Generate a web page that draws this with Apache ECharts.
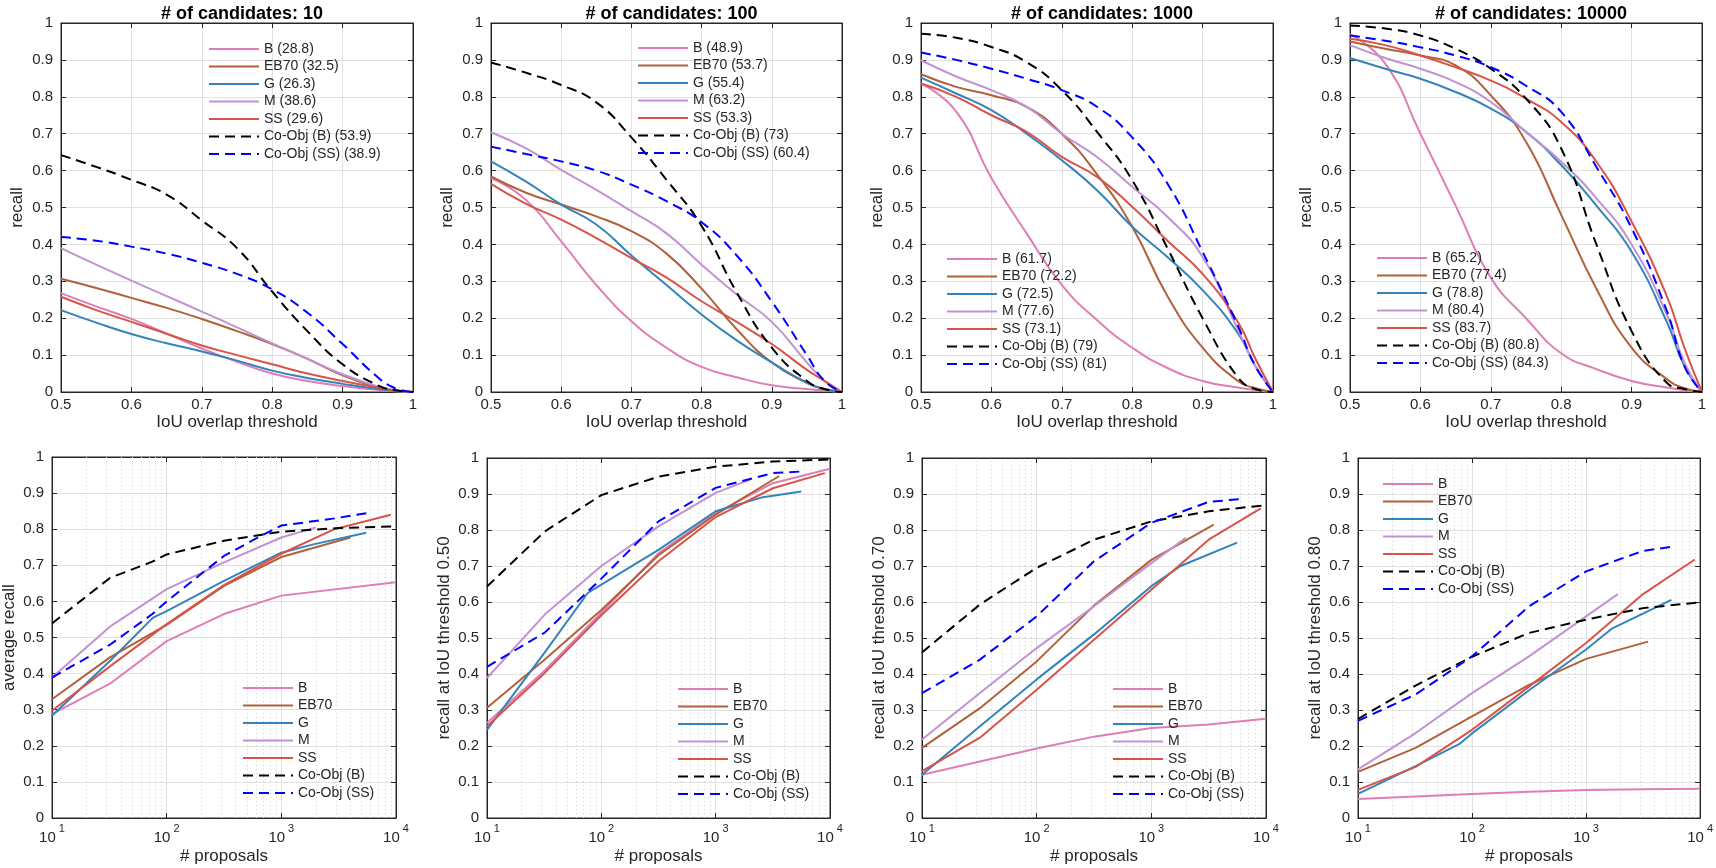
<!DOCTYPE html>
<html><head><meta charset="utf-8">
<script src="https://cdn.jsdelivr.net/npm/echarts@6/dist/echarts.min.js"></script>
<style>html,body{margin:0;padding:0;background:#fff}#c{width:1716px;height:868px}</style>
</head><body><div id="c"></div>
<script>
// ---------- data ----------
const thresholds = [0.5,0.55,0.6,0.65,0.7,0.75,0.8,0.85,0.9,0.95,0.975,1.0];
const methods = ['B','EB70','G','M','SS','Co-Obj (B)','Co-Obj (SS)'];
const candidateTitles = ['# of candidates: 10','# of candidates: 100','# of candidates: 1000','# of candidates: 10000'];

// recall vs IoU threshold, 10 candidates
const c10_B   = [0.268,0.232,0.198,0.158,0.118,0.082,0.050,0.030,0.016,0.006,0.002,0];
const c10_EB  = [0.307,0.282,0.255,0.228,0.198,0.165,0.130,0.090,0.045,0.012,0.004,0];
const c10_G   = [0.222,0.188,0.157,0.132,0.110,0.085,0.058,0.038,0.022,0.008,0.003,0];
const c10_M   = [0.390,0.345,0.302,0.260,0.218,0.175,0.132,0.090,0.048,0.015,0.005,0];
const c10_SS  = [0.258,0.222,0.190,0.158,0.126,0.100,0.075,0.050,0.030,0.012,0.004,0];
const c10_CB  = [0.642,0.610,0.575,0.535,0.465,0.390,0.272,0.165,0.075,0.018,0.005,0];
const c10_CS  = [0.420,0.410,0.394,0.375,0.350,0.320,0.278,0.215,0.130,0.040,0.010,0];
const c10_scores = ['28.8','32.5','26.3','38.6','29.6','53.9','38.9'];

// 100 candidates
const c100_B  = [0.580,0.520,0.408,0.290,0.192,0.120,0.068,0.040,0.018,0.008,0.004,0];
const c100_EB = [0.584,0.540,0.508,0.476,0.436,0.375,0.280,0.170,0.080,0.025,0.008,0];
const c100_G  = [0.625,0.570,0.508,0.454,0.370,0.290,0.210,0.140,0.080,0.025,0.008,0];
const c100_M  = [0.704,0.660,0.602,0.548,0.490,0.430,0.345,0.264,0.190,0.080,0.030,0];
const c100_SS = [0.564,0.510,0.467,0.417,0.363,0.310,0.246,0.190,0.130,0.060,0.030,0];
const c100_CB = [0.893,0.865,0.832,0.785,0.690,0.575,0.450,0.270,0.120,0.030,0.008,0];
const c100_CS = [0.665,0.645,0.625,0.600,0.562,0.517,0.460,0.370,0.245,0.100,0.030,0];
const c100_scores = ['48.9','53.7','55.4','63.2','53.3','73','60.4'];

// 1000 candidates
const c1k_B   = [0.836,0.760,0.580,0.430,0.290,0.195,0.120,0.065,0.030,0.012,0.005,0];
const c1k_EB  = [0.861,0.827,0.804,0.773,0.700,0.590,0.448,0.260,0.120,0.030,0.010,0];
const c1k_G   = [0.852,0.809,0.764,0.700,0.628,0.547,0.448,0.366,0.276,0.160,0.070,0];
const c1k_M   = [0.899,0.855,0.818,0.773,0.700,0.637,0.556,0.475,0.366,0.170,0.070,0];
const c1k_SS  = [0.836,0.800,0.750,0.705,0.637,0.583,0.502,0.410,0.320,0.190,0.090,0];
const c1k_CB  = [0.971,0.960,0.935,0.894,0.818,0.705,0.574,0.390,0.200,0.040,0.008,0];
const c1k_CS  = [0.920,0.900,0.876,0.849,0.818,0.773,0.690,0.565,0.380,0.180,0.070,0];
const c1k_scores = ['61.7','72.2','72.5','77.6','73.1','79','81'];

// 10000 candidates
const c10k_B  = [0.970,0.890,0.700,0.505,0.310,0.200,0.105,0.062,0.030,0.012,0.005,0];
const c10k_EB = [0.950,0.930,0.912,0.885,0.804,0.678,0.480,0.280,0.120,0.035,0.010,0];
const c10k_G  = [0.905,0.876,0.849,0.813,0.768,0.705,0.615,0.505,0.380,0.190,0.070,0];
const c10k_M  = [0.940,0.905,0.876,0.840,0.786,0.705,0.624,0.525,0.400,0.210,0.080,0];
const c10k_SS = [0.957,0.940,0.912,0.880,0.844,0.795,0.732,0.624,0.462,0.260,0.120,0];
const c10k_CB = [0.993,0.985,0.966,0.930,0.876,0.795,0.660,0.400,0.165,0.025,0.008,0];
const c10k_CS = [0.966,0.952,0.934,0.912,0.880,0.830,0.759,0.610,0.444,0.220,0.070,0];
const c10k_scores = ['65.2','77.4','78.8','80.4','83.7','80.8','84.3'];

// average recall vs # proposals  [proposals, value]
const ar_B  = [[10,0.288],[32,0.372],[100,0.49],[316,0.565],[1000,0.616],[10000,0.653]];
const ar_EB = [[10,0.329],[32,0.445],[100,0.535],[316,0.643],[1000,0.723],[4000,0.777]];
const ar_G  = [[10,0.283],[32,0.435],[76,0.555],[100,0.573],[316,0.657],[1000,0.735],[1900,0.758],[5500,0.79]];
const ar_M  = [[10,0.389],[32,0.53],[100,0.634],[316,0.708],[1000,0.777],[2000,0.805]];
const ar_SS = [[10,0.297],[32,0.42],[100,0.537],[316,0.645],[1000,0.732],[2900,0.8],[9000,0.84]];
const ar_CB = [[10,0.539],[32,0.665],[75,0.71],[100,0.73],[316,0.768],[1000,0.793],[3162,0.803],[10000,0.808]];
const ar_CS = [[10,0.389],[32,0.48],[75,0.565],[100,0.6],[316,0.726],[650,0.78],[1000,0.81],[2900,0.83],[6000,0.846]];

// recall at IoU 0.50
const r50_B  = [[10,0.264],[32,0.41],[100,0.57],[316,0.735],[1000,0.847],[3162,0.93],[10000,0.97]];
const r50_EB = [[10,0.306],[32,0.44],[100,0.578],[316,0.73],[1000,0.843],[3600,0.95]];
const r50_G  = [[10,0.245],[32,0.46],[76,0.625],[100,0.648],[316,0.745],[1000,0.852],[2500,0.89],[5600,0.907]];
const r50_M  = [[10,0.389],[32,0.565],[100,0.7],[316,0.81],[1000,0.903],[2000,0.94]];
const r50_SS = [[10,0.255],[32,0.403],[100,0.563],[316,0.713],[1000,0.836],[3162,0.916],[9000,0.958]];
const r50_CB = [[10,0.643],[32,0.796],[100,0.897],[316,0.948],[1000,0.976],[3162,0.99],[10000,0.996]];
const r50_CS = [[10,0.42],[32,0.515],[100,0.665],[316,0.824],[1000,0.917],[3162,0.958],[6000,0.963]];

// recall at IoU 0.70
const r70_B  = [[10,0.12],[32,0.157],[100,0.193],[316,0.226],[1000,0.25],[3162,0.26],[10000,0.276]];
const r70_EB = [[10,0.195],[32,0.305],[100,0.435],[316,0.59],[1000,0.717],[3500,0.815]];
const r70_G  = [[10,0.12],[32,0.255],[100,0.385],[316,0.51],[1000,0.644],[1800,0.7],[5600,0.765]];
const r70_M  = [[10,0.218],[32,0.347],[100,0.472],[316,0.588],[1000,0.708],[2000,0.778]];
const r70_SS = [[10,0.13],[32,0.223],[100,0.356],[316,0.495],[1000,0.634],[3162,0.773],[9000,0.86]];
const r70_CB = [[10,0.46],[32,0.593],[100,0.695],[316,0.773],[1000,0.824],[3162,0.852],[10000,0.869]];
const r70_CS = [[10,0.347],[32,0.44],[100,0.56],[316,0.713],[1000,0.82],[3162,0.878],[6000,0.886]];

// recall at IoU 0.80
const r80_B  = [[10,0.053],[32,0.06],[100,0.067],[316,0.073],[1000,0.078],[3162,0.08],[10000,0.081]];
const r80_EB = [[10,0.128],[32,0.195],[100,0.282],[316,0.37],[1000,0.442],[3500,0.49]];
const r80_G  = [[10,0.067],[32,0.144],[77,0.205],[100,0.235],[316,0.355],[1000,0.468],[1700,0.527],[5600,0.606]];
const r80_M  = [[10,0.135],[32,0.236],[100,0.347],[316,0.449],[1000,0.56],[1900,0.622]];
const r80_SS = [[10,0.078],[32,0.142],[100,0.245],[316,0.365],[1000,0.486],[3162,0.622],[9000,0.718]];
const r80_CB = [[10,0.275],[32,0.368],[100,0.448],[316,0.514],[1000,0.551],[3162,0.583],[10000,0.599]];
const r80_CS = [[10,0.27],[32,0.343],[100,0.449],[316,0.588],[1000,0.685],[3162,0.742],[5500,0.753]];

const bottomYNames = ['average recall','recall at IoU threshold 0.50','recall at IoU threshold 0.70','recall at IoU threshold 0.80'];
const minorTicks = [20,30,40,50,60,70,80,90,200,300,400,500,600,700,800,900,2000,3000,4000,5000,6000,7000,8000,9000];

// ---------- styling / layout ----------
const colors = ['#E17DB5','#B1613A','#3384BA','#C292D3','#D8544A','#000000','#0000FF'];
const dashedFlags = [false,false,false,false,false,true,true];
const FONT = 'Liberation Sans, Arial, Helvetica, sans-serif';
const AX = '#262626';
const GRIDC = '#e1e1e1';

const topGrids = [
  {left:61, top:23, width:352, height:369},
  {left:491, top:23, width:351, height:369},
  {left:921, top:23, width:352, height:369},
  {left:1350, top:23, width:352, height:369}
];
const botGrids = [
  {left:52, top:457, width:344, height:361},
  {left:487, top:458, width:343, height:360},
  {left:922, top:458, width:344, height:360},
  {left:1358, top:458, width:344, height:360}
];
const topLegendPos = [{left:208,top:42},{left:637,top:41},{left:946,top:252},{left:1376,top:251}];
const botLegendPos = [{left:242,top:681},{left:677,top:682},{left:1112,top:682},{left:1382,top:477}];

const topSets = [
  [c10_B,c10_EB,c10_G,c10_M,c10_SS,c10_CB,c10_CS],
  [c100_B,c100_EB,c100_G,c100_M,c100_SS,c100_CB,c100_CS],
  [c1k_B,c1k_EB,c1k_G,c1k_M,c1k_SS,c1k_CB,c1k_CS],
  [c10k_B,c10k_EB,c10k_G,c10k_M,c10k_SS,c10k_CB,c10k_CS]
];
const topScores = [c10_scores,c100_scores,c1k_scores,c10k_scores];
const botSets = [
  [ar_B,ar_EB,ar_G,ar_M,ar_SS,ar_CB,ar_CS],
  [r50_B,r50_EB,r50_G,r50_M,r50_SS,r50_CB,r50_CS],
  [r70_B,r70_EB,r70_G,r70_M,r70_SS,r70_CB,r70_CS],
  [r80_B,r80_EB,r80_G,r80_M,r80_SS,r80_CB,r80_CS]
];

// ---------- build option ----------
const grid = [], xAxis = [], yAxis = [], series = [], legend = [], title = [];
const axLine = {show:true, onZero:false, lineStyle:{color:AX, width:1}};
const axTick = {show:true, inside:true, length:5, lineStyle:{color:AX, width:1}};
const nameStyle = {fontSize:17, color:AX, fontFamily:FONT};
const labelBase = {fontSize:15, color:AX, fontFamily:FONT};

function lineSeries(name, data, k, xi, extra) {
  return Object.assign({
    type:'line', name, data, xAxisIndex:xi, yAxisIndex:xi,
    symbol:'none', showSymbol:false, clip:true,
    lineStyle:{color:colors[k], width:2, type: dashedFlags[k] ? [10,6] : 'solid'},
    itemStyle:{color:colors[k]},
    emphasis:{disabled:true}, z: 2 + k*0.01
  }, extra || {});
}

function legendCfg(pos, names) {
  return {
    left:pos.left, top:pos.top, orient:'vertical', padding:0,
    itemWidth:50, itemHeight:14, itemGap:3.5, selectedMode:false,
    itemStyle:{opacity:0, borderWidth:0},
    textStyle:{fontSize:14, color:AX, fontFamily:FONT, lineHeight:14},
    data:names
  };
}

function boxGrid(g) {
  return {left:g.left, top:g.top, width:g.width, height:g.height, containLabel:false,
    show:true, borderColor:AX, borderWidth:1, backgroundColor:'transparent'};
}

// top row
for (let i = 0; i < 4; i++) {
  const g = topGrids[i];
  grid.push(boxGrid(g));
  const gi = grid.length - 1;
  xAxis.push({gridIndex:gi, type:'value', min:0.5, max:1, interval:0.1, position:'bottom',
    name:'IoU overlap threshold', nameLocation:'middle', nameGap:22, nameTextStyle:nameStyle,
    axisLine:axLine, axisTick:axTick, axisLabel:Object.assign({margin:5}, labelBase),
    splitLine:{show:true, lineStyle:{color:GRIDC, width:1}}});
  xAxis.push({gridIndex:gi, type:'value', min:0.5, max:1, interval:0.1, position:'top',
    axisLine:axLine, axisTick:axTick, axisLabel:{show:false}, splitLine:{show:false}});
  yAxis.push({gridIndex:gi, type:'value', min:0, max:1, interval:0.1, position:'left',
    name:'recall', nameLocation:'middle', nameGap:35, nameTextStyle:nameStyle,
    axisLine:axLine, axisTick:axTick, axisLabel:Object.assign({margin:8}, labelBase),
    splitLine:{show:true, lineStyle:{color:GRIDC, width:1}}});
  yAxis.push({gridIndex:gi, type:'value', min:0, max:1, interval:0.1, position:'right',
    axisLine:axLine, axisTick:axTick, axisLabel:{show:false}, splitLine:{show:false}});
  const xi = xAxis.length - 2;
  const names = [];
  topSets[i].forEach((arr, k) => {
    const nm = methods[k] + ' (' + topScores[i][k] + ')';
    names.push(nm);
    series.push(lineSeries(nm, thresholds.map((t, j) => [t, arr[j]]), k, xi, {smooth:0.5}));
  });
  legend.push(legendCfg(topLegendPos[i], names));
  title.push({text:candidateTitles[i], left:g.left + g.width/2, top:0, textAlign:'center',
    textStyle:{fontSize:18, fontWeight:'bold', color:'#000', fontFamily:FONT}});
}

// bottom row
const logLabel = {
  margin:5,
  formatter: v => '{b|10}{s|' + Math.round(Math.log10(v)) + '}',
  rich:{
    b:{fontSize:15, color:AX, fontFamily:FONT, lineHeight:30},
    s:{fontSize:11, color:AX, fontFamily:FONT, lineHeight:12, verticalAlign:'top', padding:[0,0,0,3]}
  }
};
for (let i = 0; i < 4; i++) {
  const g = botGrids[i];
  grid.push(boxGrid(g));
  const gi = grid.length - 1;
  xAxis.push({gridIndex:gi, type:'log', logBase:10, min:10, max:10000, position:'bottom',
    name:'# proposals', nameLocation:'middle', nameGap:30, nameTextStyle:nameStyle,
    axisLine:axLine, axisTick:axTick, axisLabel:logLabel,
    splitLine:{show:true, lineStyle:{color:GRIDC, width:1}}});
  xAxis.push({gridIndex:gi, type:'log', logBase:10, min:10, max:10000, position:'top',
    axisLine:axLine, axisTick:axTick, axisLabel:{show:false}, splitLine:{show:false}});
  yAxis.push({gridIndex:gi, type:'value', min:0, max:1, interval:0.1, position:'left',
    name:bottomYNames[i], nameLocation:'middle', nameGap:34, nameTextStyle:nameStyle,
    axisLine:axLine, axisTick:axTick, axisLabel:Object.assign({margin:8}, labelBase),
    splitLine:{show:true, lineStyle:{color:GRIDC, width:1}}});
  yAxis.push({gridIndex:gi, type:'value', min:0, max:1, interval:0.1, position:'right',
    axisLine:axLine, axisTick:axTick, axisLabel:{show:false}, splitLine:{show:false}});
  const xi = xAxis.length - 2;
  botSets[i].forEach((arr, k) => {
    const extra = {};
    if (k === 0) {
      extra.markLine = {
        silent:true, symbol:['none','none'], label:{show:false}, z:1, animation:false,
        lineStyle:{color:'#cfcfcf', type:[1,3], width:1},
        emphasis:{disabled:true},
        data: minorTicks.map(v => ({xAxis:v}))
      };
    }
    series.push(lineSeries(methods[k], arr, k, xi, extra));
  });
  legend.push(legendCfg(botLegendPos[i], methods.slice()));
}

const chart = echarts.init(document.getElementById('c'), null, {renderer:'canvas'});
chart.setOption({
  animation:false,
  backgroundColor:'#ffffff',
  textStyle:{fontFamily:FONT},
  title, legend, grid, xAxis, yAxis, series
});
</script></body></html>
